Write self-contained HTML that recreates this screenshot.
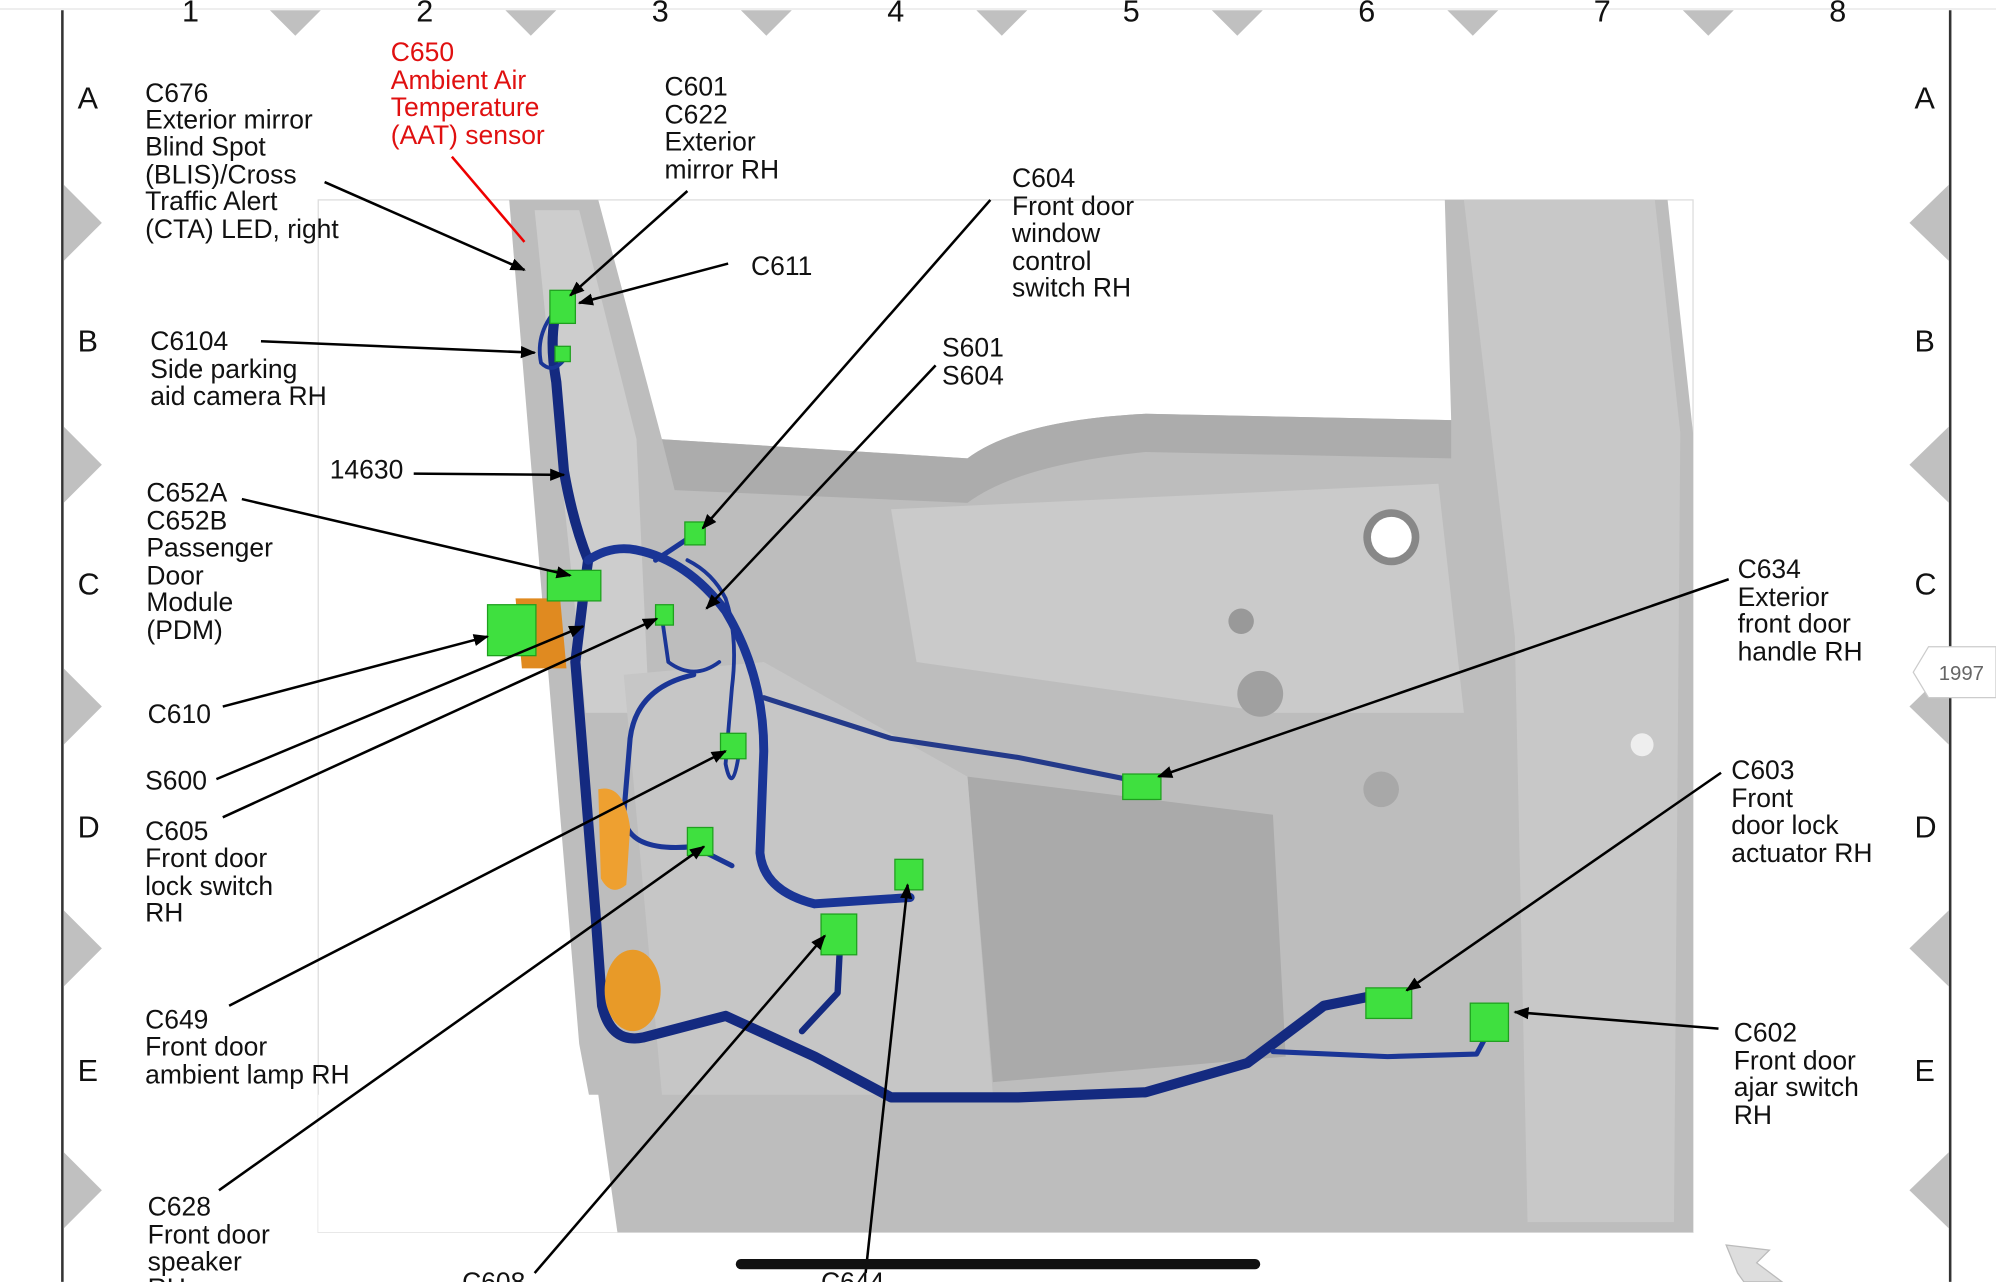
<!DOCTYPE html>
<html><head><meta charset="utf-8"><style>
html,body{margin:0;padding:0;background:#fff;}
svg{display:block;}
text{font-family:"Liberation Sans",Arial,sans-serif;font-size:20.8px;fill:#111;}
</style></head><body>
<svg width="1996" height="1282" viewBox="0 0 1568 1007" xmlns="http://www.w3.org/2000/svg">
<defs>
<marker id="ah" viewBox="0 0 10 10" refX="9" refY="5" markerWidth="6" markerHeight="6" orient="auto" markerUnits="strokeWidth"><path d="M0,1 L10,5 L0,9 Z" fill="#000"/></marker>
</defs>
<rect width="1568" height="1007" fill="#fff"/>
<line x1="0" y1="7" x2="1568" y2="7" stroke="#e4e4e4" stroke-width="1"/>
<line x1="49" y1="8" x2="49" y2="1007" stroke="#333" stroke-width="2"/>
<line x1="1532" y1="8" x2="1532" y2="1007" stroke="#333" stroke-width="2"/>
<g>
<text x="143" y="17" style="font-size:24px">1</text><text x="327" y="17" style="font-size:24px">2</text><text x="512" y="17" style="font-size:24px">3</text><text x="697" y="17" style="font-size:24px">4</text><text x="882" y="17" style="font-size:24px">5</text><text x="1067" y="17" style="font-size:24px">6</text><text x="1252" y="17" style="font-size:24px">7</text><text x="1437" y="17" style="font-size:24px">8</text>
</g>
<g fill="#c0c0c0">
<polygon points="212,8 252,8 232,28"/><polygon points="397,8 437,8 417,28"/><polygon points="582,8 622,8 602,28"/><polygon points="767,8 807,8 787,28"/><polygon points="952,8 992,8 972,28"/><polygon points="1137,8 1177,8 1157,28"/><polygon points="1322,8 1362,8 1342,28"/>
<polygon points="50,145 80,175 50,205"/><polygon points="50,335 80,365 50,395"/><polygon points="50,525 80,555 50,585"/><polygon points="50,715 80,745 50,775"/><polygon points="50,905 80,935 50,965"/>
<polygon points="1531,145 1500,175 1531,205"/><polygon points="1531,335 1500,365 1531,395"/><polygon points="1531,525 1500,555 1531,585"/><polygon points="1531,715 1500,745 1531,775"/><polygon points="1531,905 1500,935 1531,965"/>
</g>
<g>
<text x="61" y="85" style="font-size:24px">A</text><text x="61" y="276" style="font-size:24px">B</text><text x="61" y="467" style="font-size:24px">C</text><text x="61" y="658" style="font-size:24px">D</text><text x="61" y="849" style="font-size:24px">E</text>
<text x="1504" y="85" style="font-size:24px">A</text><text x="1504" y="276" style="font-size:24px">B</text><text x="1504" y="467" style="font-size:24px">C</text><text x="1504" y="658" style="font-size:24px">D</text><text x="1504" y="849" style="font-size:24px">E</text>
</g>
<rect x="250" y="157" width="1080" height="811" fill="#fff" stroke="#ddd" stroke-width="1"/>
<path d="M400,157 L470,157 L520,345 L760,360 Q800,330 900,325 L1140,330 L1135,157 L1310,157 L1330,340 L1330,968 L485,968 Q470,900 455,820 L430,520 Z" fill="#bdbdbd"/>
<path d="M420,165 L455,165 L500,345 L510,560 L460,560 Z" fill="#cdcdcd"/>
<path d="M520,345 L760,360 Q800,330 900,325 L1140,330 L1140,360 L900,355 Q800,365 760,395 L530,385 Z" fill="#acacac"/>
<path d="M1150,157 L1300,157 L1320,340 L1315,960 L1200,960 L1190,500 Z" fill="#c8c8c8"/>
<path d="M760,610 L1000,640 L1010,830 L780,850 Z" fill="#aaaaaa"/>
<path d="M490,530 L600,520 L760,610 L780,860 L520,860 Z" fill="#c6c6c6"/>
<path d="M700,400 L1130,380 L1150,560 L1000,560 L720,520 Z" fill="#cacaca"/>
<circle cx="1093" cy="422" r="22" fill="#888"/><circle cx="1093" cy="422" r="16" fill="#fff"/>
<circle cx="990" cy="545" r="18" fill="#a0a0a0"/><circle cx="975" cy="488" r="10" fill="#999"/>
<circle cx="1290" cy="585" r="9" fill="#eee"/><circle cx="1085" cy="620" r="14" fill="#a8a8a8"/>
<path d="M250,860 L470,860 L485,968 L250,968 Z" fill="#fff"/>
<g fill="none" stroke-linecap="round" stroke-linejoin="round">
<path d="M440,235 Q430,260 437,300 L443,370 Q450,410 462,440 L458,470 L452,520 L460,620 L468,720 L473,790 Q480,820 505,815 L570,798 L640,830 L700,862 L800,862 L900,858 L980,835 L1040,790 L1080,782" stroke="#142a80" stroke-width="8"/>
<path d="M462,440 Q480,428 500,432 Q540,440 570,480 Q600,530 600,590 L597,670 Q600,700 640,710 L715,705" stroke="#1a3596" stroke-width="7"/>
<path d="M1000,826 L1090,830 L1160,828 L1175,800" stroke="#1a3596" stroke-width="4"/>
<path d="M515,440 Q530,430 545,420" stroke="#1a3596" stroke-width="4"/>
<path d="M540,440 Q560,450 570,470 Q580,500 575,540 L570,600 Q575,625 580,595" stroke="#1a3596" stroke-width="3"/>
<path d="M520,485 L525,520 Q545,535 565,520" stroke="#1a3596" stroke-width="3"/>
<path d="M545,530 Q500,540 495,580 L490,640 Q492,670 545,665 L575,680" stroke="#1a3596" stroke-width="4"/>
<path d="M600,548 L700,580 L800,595 L900,615" stroke="#243a8a" stroke-width="4"/>
<path d="M660,740 L658,780 L630,810" stroke="#142a80" stroke-width="5"/>
<path d="M440,240 Q420,260 425,285 Q435,295 445,280" stroke="#1a3596" stroke-width="3"/>
</g>
<path d="M405,470 L440,470 L445,525 L410,525 Z" fill="#e08a20"/>
<path d="M470,620 Q490,615 495,650 L492,695 Q480,705 472,690 Z" fill="#eea030"/>
<ellipse cx="497" cy="778" rx="22" ry="32" fill="#e89a28"/>
<g fill="#3fe03f" stroke="#1fa01f" stroke-width="1">
<rect x="432" y="228" width="20" height="26"/><rect x="436" y="272" width="12" height="12"/>
<rect x="430" y="448" width="42" height="24"/><rect x="383" y="475" width="38" height="40"/>
<rect x="538" y="410" width="16" height="18"/><rect x="515" y="475" width="14" height="16"/>
<rect x="566" y="576" width="20" height="20"/><rect x="540" y="650" width="20" height="22"/>
<rect x="703" y="675" width="22" height="24"/><rect x="645" y="718" width="28" height="32"/>
<rect x="882" y="608" width="30" height="20"/><rect x="1073" y="776" width="36" height="24"/>
<rect x="1155" y="788" width="30" height="30"/>
</g>
<g stroke="#000" stroke-width="2" fill="none" marker-end="url(#ah)">
<line x1="255" y1="143" x2="412" y2="212"/>
<line x1="540" y1="150" x2="448" y2="232"/>
<line x1="572" y1="207" x2="455" y2="238"/>
<line x1="778" y1="157" x2="552" y2="415"/>
<line x1="735" y1="287" x2="555" y2="478"/>
<line x1="205" y1="268" x2="420" y2="277"/>
<line x1="325" y1="372" x2="443" y2="373"/>
<line x1="190" y1="392" x2="448" y2="452"/>
<line x1="175" y1="555" x2="383" y2="500"/>
<line x1="170" y1="612" x2="458" y2="492"/>
<line x1="175" y1="642" x2="516" y2="486"/>
<line x1="180" y1="790" x2="570" y2="590"/>
<line x1="172" y1="935" x2="553" y2="665"/>
<line x1="420" y1="1000" x2="648" y2="735"/>
<line x1="680" y1="1000" x2="713" y2="695"/>
<line x1="1358" y1="455" x2="910" y2="610"/>
<line x1="1352" y1="607" x2="1105" y2="778"/>
<line x1="1350" y1="808" x2="1190" y2="795"/>
</g>
<line x1="355" y1="123" x2="412" y2="190" stroke="#e00" stroke-width="2"/>
<text x="114" y="80">C676</text><text x="114" y="101">Exterior mirror</text><text x="114" y="122">Blind Spot</text><text x="114" y="144">(BLIS)/Cross</text><text x="114" y="165">Traffic Alert</text><text x="114" y="187">(CTA) LED, right</text>
<text x="307" y="48" style="fill:#e01010">C650</text><text x="307" y="70" style="fill:#e01010">Ambient Air</text><text x="307" y="91" style="fill:#e01010">Temperature</text><text x="307" y="113" style="fill:#e01010">(AAT) sensor</text>
<text x="522" y="75">C601</text><text x="522" y="97">C622</text><text x="522" y="118">Exterior</text><text x="522" y="140">mirror RH</text>
<text x="590" y="216">C611</text>
<text x="795" y="147">C604</text><text x="795" y="169">Front door</text><text x="795" y="190">window</text><text x="795" y="212">control</text><text x="795" y="233">switch RH</text>
<text x="740" y="280">S601</text><text x="740" y="302">S604</text>
<text x="118" y="275">C6104</text><text x="118" y="297">Side parking</text><text x="118" y="318">aid camera RH</text>
<text x="259" y="376">14630</text>
<text x="115" y="394">C652A</text><text x="115" y="416">C652B</text><text x="115" y="437">Passenger</text><text x="115" y="459">Door</text><text x="115" y="480">Module</text><text x="115" y="502">(PDM)</text>
<text x="116" y="568">C610</text>
<text x="114" y="620">S600</text>
<text x="114" y="660">C605</text><text x="114" y="681">Front door</text><text x="114" y="703">lock switch</text><text x="114" y="724">RH</text>
<text x="114" y="808">C649</text><text x="114" y="829">Front door</text><text x="114" y="851">ambient lamp RH</text>
<text x="116" y="955">C628</text><text x="116" y="977">Front door</text><text x="116" y="998">speaker</text><text x="116" y="1019">RH</text>
<text x="363" y="1014">C608</text><text x="645" y="1014">C644</text>
<text x="1365" y="454">C634</text><text x="1365" y="476">Exterior</text><text x="1365" y="497">front door</text><text x="1365" y="519">handle RH</text>
<text x="1360" y="612">C603</text><text x="1360" y="634">Front</text><text x="1360" y="655">door lock</text><text x="1360" y="677">actuator RH</text>
<text x="1362" y="818">C602</text><text x="1362" y="840">Front door</text><text x="1362" y="861">ajar switch</text><text x="1362" y="883">RH</text>
<path d="M1515,508 L1568,508 L1568,548 L1515,548 L1503,528 Z" fill="#fff" stroke="#ccc"/>
<text x="1523" y="534" style="font-size:16px;fill:#666">1997</text>
<rect x="578" y="989" width="412" height="8" rx="4" fill="#111"/>
<path d="M1356,978 L1390,982 L1380,992 L1400,1007 L1370,1007 L1365,1000 Z" fill="#ddd" stroke="#bbb"/>
</svg>
</body></html>
